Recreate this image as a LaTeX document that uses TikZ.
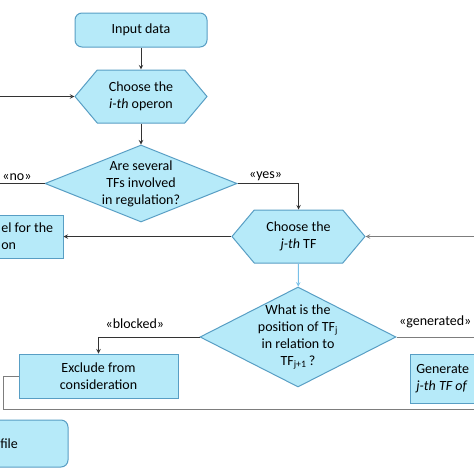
\documentclass[tikz,border=0pt]{standalone}
\usepackage{fontspec}
\setmainfont{Carlito}
\usepackage{xcolor}
\definecolor{BoxFill}{RGB}{182,234,249}
\definecolor{BoxEdge}{RGB}{88,158,196}
\definecolor{LineGray}{RGB}{125,125,125}
\definecolor{LinkBlue}{RGB}{120,192,232}
\usepackage{tikz}
\usetikzlibrary{arrows,shapes.geometric,shapes.symbols}

\begin{document}
\begin{tikzpicture}[->,>=stealth,x=1pt,y=-1pt,line width=1pt,
                    font=\fontsize{14}{17}\selectfont]
  \tikzstyle{box}=[draw=BoxEdge,fill=BoxFill,rectangle,inner sep=0pt]
  \tikzstyle{term}=[box,rounded corners=7pt]
  \tikzstyle{hex}=[box,shape=signal,signal to=west and east,signal pointer angle=100]
  \tikzstyle{dec}=[box,shape=diamond]
  \tikzstyle{flow}=[draw=black!80]
  \tikzstyle{ret}=[draw=LineGray]
  \tikzstyle{link}=[draw=LinkBlue]

  \useasboundingbox (0,0) rectangle (474,474);
  \clip (0,0) rectangle (474,474);

  \node[term,minimum width=132,minimum height=34] (inp) at (141,30) {Input data};
  \node[hex,minimum width=132,minimum height=53,
        label={[align=center]center:Choose the\\\textit{i-th} operon}] (op) at (141,96.5) {};
  \node[dec,minimum width=192,minimum height=77,
        label={[align=center]center:Are several\\TFs involved\\in regulation?}] (sev) at (141,183.5) {};
  \node[hex,minimum width=133,minimum height=53,
        label={[align=center]center:Choose the\\\textit{j-th} TF}] (tf) at (298.5,236.5) {};
  \node[dec,minimum width=196,minimum height=100,
        label={[align=center]center:What is the\\position of TF\textsubscript{j}\\in relation to\\TF\textsubscript{j+1}\,?}] (pos) at (298,337) {};
  \node[box,minimum width=159,minimum height=44,align=center] (excl) at (98.5,376) {Exclude from\\consideration};
  \node[box,minimum width=150,minimum height=49,
        label={[align=left,anchor=west,xshift=3pt]west:Generate\\\textit{j-th TF of}}] (gen) at (485,378.5) {};
  \node[box,minimum width=123,minimum height=43,
        label={[align=left,anchor=west,xshift=-66pt]east:el for the\\on}] (mdl) at (1.5,236.5) {};
  \node[term,minimum width=138,minimum height=47,
        label={[anchor=west,xshift=-72pt]east:file}] (out) at (-1,443.5) {};

  \coordinate (inL) at (0,96.5);
  \coordinate (noEnd) at (0,183.5);
  \coordinate (tfR) at (474,236.5);
  \coordinate (genR) at (474,337);
  \coordinate (retL) at (3,376);
  \coordinate (retR) at (474,409);

  \draw[flow] (inL) -- (op.west);
  \draw[flow] (inp) -- (op);
  \draw[flow] (op) -- (sev);
  \draw[flow,-] (sev.west) -- node[above=-1pt,pos=0.62] {«no»} (noEnd);
  \draw[flow] (sev.east) -| node[above=-1pt,pos=0.23] {«yes»} (tf.north);
  \draw[flow] (tf.west) -- (mdl.east);
  \draw[ret] (tfR) -- (tf.east);
  \draw[link] (tf) -- (pos);
  \draw[flow] (pos.west) -| node[above=5pt,pos=0.32] {«blocked»} (excl.north);
  \draw[ret,-] (pos.east) -- node[above=5pt] {«generated»} (genR);
  \draw[ret,-] (excl.west) -- (retL) |- (retR);
\end{tikzpicture}
\end{document}
